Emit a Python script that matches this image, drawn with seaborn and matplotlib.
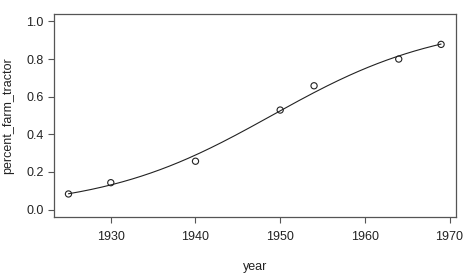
import numpy as np
import pandas as pd
import matplotlib
matplotlib.use("Agg")
import matplotlib.pyplot as plt
import seaborn as sns

# Data
year = [1925, 1930, 1940, 1950, 1954, 1964, 1969]
percent_farm_tractor = [0.083, 0.143, 0.257, 0.529, 0.658, 0.800, 0.878]
x_ticks = [1930, 1940, 1950, 1960, 1970]
y_ticks = [0.0, 0.2, 0.4, 0.6, 0.8, 1.0]

df = pd.DataFrame({"year": year, "percent_farm_tractor": percent_farm_tractor})

# Logistic (binomial GLM) fit by IRLS from the data
t = np.array(year, dtype=float) - 1950.0
p = np.array(percent_farm_tractor)
X = np.column_stack([np.ones_like(t), t])
beta = np.zeros(2)
for _ in range(50):
    eta = X @ beta
    mu = 1 / (1 + np.exp(-eta))
    w = mu * (1 - mu)
    z = eta + (p - mu) / w
    beta = np.linalg.solve(X.T @ (w[:, None] * X), X.T @ (w * z))
grid = np.linspace(min(year), max(year), 200)
fit = pd.DataFrame({"year": grid,
                    "fit": 1 / (1 + np.exp(-(beta[0] + beta[1] * (grid - 1950.0))))})

sns.set_style("ticks")
plt.rcParams["font.family"] = ["Liberation Sans", "DejaVu Sans"]

fig = plt.figure(figsize=(4.74, 2.78), dpi=100)
ax = fig.add_axes([0.113, 0.219, 0.849, 0.731])

sns.lineplot(data=fit, x="year", y="fit", ax=ax, color="#222222", linewidth=0.8)
sns.scatterplot(data=df, x="year", y="percent_farm_tractor", ax=ax,
                facecolors="none", edgecolor="#222222", linewidth=0.8, s=20, marker="o")

ax.set_xlim(1923.24, 1970.76)
ax.set_ylim(-0.04, 1.04)
ax.set_xticks(x_ticks)
ax.set_yticks(y_ticks)
ax.set_yticklabels([f"{v:.1f}" for v in y_ticks])
ax.tick_params(axis="both", direction="out", length=4.2, width=0.8, color="#555555",
               labelsize=9, labelcolor="#222222", pad=3)
ax.tick_params(axis="x", pad=6)
for s in ax.spines.values():
    s.set_visible(True)
    s.set_color("#555555")
    s.set_linewidth(0.9)

ax.set_xlabel("year", fontsize=9, color="#222222", labelpad=13)
ax.set_ylabel("percent_farm_tractor", fontsize=9, color="#222222", labelpad=9)

fig.savefig("out.png", dpi=100)
